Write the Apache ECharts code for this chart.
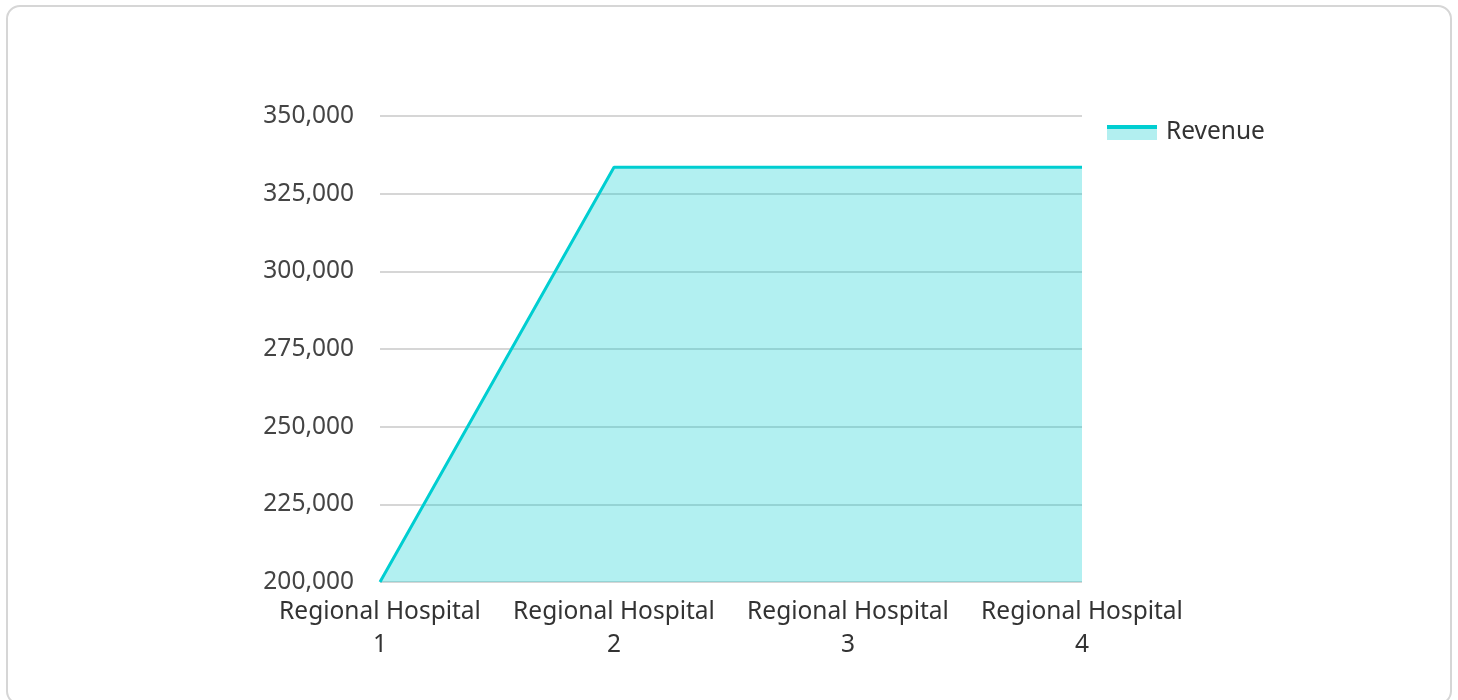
<!DOCTYPE html>
<html>
<head>
<meta charset="utf-8">
<script src="https://cdn.jsdelivr.net/npm/echarts@6/dist/echarts.min.js"></script>
<style>
    html, body {
        margin: 0;
        padding: 0;
        width: 1458px;
        height: 700px;
        background: #fff;
        overflow: hidden;
    }
    #card {
        position: absolute;
        left: 6px;
        top: 5px;
        width: 1446px;
        height: 700px;
        border: 2px solid #d6d6d6;
        border-radius: 14px;
        box-sizing: border-box;
    }
    #main {
        position: absolute;
        left: 0;
        top: 0;
        width: 1458px;
        height: 700px;
    }
</style>
</head>
<body>
<div id="card"></div>
<div id="main"></div>
<script>
const hospitals = ['Regional Hospital 1', 'Regional Hospital 2', 'Regional Hospital 3', 'Regional Hospital 4'];
const revenue = [200000, 333500, 333500, 333500];
const seriesName = 'Revenue';

const teal = '#00CED1';
const tealLight = '#b2eff0';

const myChart = echarts.init(document.getElementById('main'));

const option = {
    textStyle: { fontFamily: 'Noto Sans' },
    legend: {
        data: [seriesName],
        left: 1102,
        top: 115,
        icon: 'rect',
        itemWidth: 50,
        itemHeight: 15,
        itemGap: 10,
        itemStyle: {
            // line on top, filled area below, like the reference key
            color: new echarts.graphic.LinearGradient(0, 0, 0, 1, [
                { offset: 0, color: teal },
                { offset: 0.24, color: teal },
                { offset: 0.24, color: tealLight },
                { offset: 1, color: tealLight }
            ])
        },
        textStyle: {
            fontSize: 24.5,
            color: '#333',
            fontFamily: 'Noto Sans',
            padding: [0, 0, 0, 4]
        }
    },
    grid: {
        left: 380,
        right: 376,
        top: 116,
        bottom: 118
    },
    xAxis: {
        type: 'category',
        boundaryGap: false,
        data: hospitals,
        axisLine: { show: false },
        axisTick: { show: false },
        axisLabel: {
            interval: 0,
            fontSize: 24.5,
            color: '#333',
            lineHeight: 33,
            margin: 14,
            formatter: function (v) {
                const i = v.lastIndexOf(' ');
                return v.slice(0, i) + '\n' + v.slice(i + 1);
            }
        }
    },
    yAxis: {
        type: 'value',
        min: 200000,
        max: 350000,
        interval: 25000,
        axisLine: { show: false },
        axisTick: { show: false },
        splitLine: { lineStyle: { color: '#c8c8c8', width: 1.5 } },
        axisLabel: {
            fontSize: 24.5,
            color: '#444',
            margin: 26,
            formatter: function (v) {
                return v.toLocaleString('en-US');
            }
        }
    },
    series: [
        {
            name: seriesName,
            type: 'line',
            data: revenue,
            symbol: 'none',
            lineStyle: { color: teal, width: 3 },
            itemStyle: { color: teal },
            areaStyle: { color: teal, opacity: 0.3 }
        }
    ]
};

myChart.setOption(option);
</script>
</body>
</html>
